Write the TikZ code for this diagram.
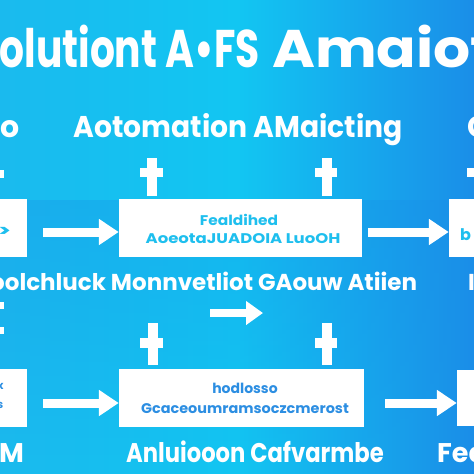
\documentclass[tikz,border=0pt]{standalone}
\usepackage{fontspec}
\setmainfont{Poppins}
\usetikzlibrary{arrows.meta,fadings}
\definecolor{bgcyan}{HTML}{12C6F2}
\definecolor{bgleft}{HTML}{1ABAEE}
\definecolor{bgblue}{HTML}{1A8EE8}
\definecolor{boxtxtA}{HTML}{1EBFEE}
\definecolor{boxtxtB}{HTML}{2C8EE2}
\tikzset{
  whitebox/.style={fill=white, draw=none},
  bigarrow/.style={draw=white, line width=9pt, -{Triangle[width=25pt,length=20pt]}},
  crossbar/.style={fill=white, draw=none},
  lbl/.style={text=white, font=\bfseries, inner sep=0pt, anchor=base},
}
\begin{document}
\begin{tikzpicture}[x=1pt,y=-1pt]
\useasboundingbox (0,0) rectangle (474,474);
\clip (0,0) rectangle (474,474);
% background
\shade[left color=bgleft, right color=bgblue, middle color=bgcyan] (0,0) rectangle (474,474);
\fill[bgblue, opacity=0.3, path fading=south] (0,200) rectangle (474,474);

% title
\node[lbl, font=\bfseries\fontsize{53}{60}\selectfont, anchor=base east] (title1) at (260,67) {\scalebox{0.74}[1]{olutiont A•FS}};
\node[lbl, font=\bfseries\fontsize{53}{60}\selectfont, anchor=base west] (title2) at (272,67) {\scalebox{1.1}[1]{Amaiot}};

% row 1 labels
\node[lbl, font=\bfseries\fontsize{30}{34}\selectfont] (r1lab) at (238,137) {\scalebox{0.94}[1]{Aotomation AMaicting}};
\node[lbl, font=\bfseries\fontsize{30}{34}\selectfont, anchor=base east] (r1left) at (20,137) {no};
\node[lbl, font=\bfseries\fontsize{30}{34}\selectfont, anchor=base west] (r1right) at (467,137) {C};

% crosses row 1
\fill[crossbar] (147,158) rectangle (157,196);
\fill[crossbar] (140,168) rectangle (163,177);
\fill[crossbar] (322,158) rectangle (332,196);
\fill[crossbar] (315,168) rectangle (337,177);
\fill[crossbar] (0,170) rectangle (4,178);
\fill[crossbar] (467,168) rectangle (474,177);

% row 1 boxes
\node[whitebox, minimum width=243pt, minimum height=58pt] (b1) at (240.5,228) {};
\node[whitebox, minimum width=28pt, minimum height=58pt] (b1l) at (13,228) {};
\node[whitebox, minimum width=30pt, minimum height=58pt] (b1r) at (464,228) {};
\node[text=boxtxtA, font=\bfseries\fontsize{14}{16}\selectfont, inner sep=0pt, anchor=base] (b1t1) at (239,225) {\scalebox{1.1}[1]{Fealdihed}};
\node[text=boxtxtA, font=\bfseries\fontsize{14}{16}\selectfont, inner sep=0pt, anchor=base] (b1t2) at (243,243) {\scalebox{1.18}[1]{AoeotaJUADOIA LuoOH}};
\node[text=boxtxtA, font=\bfseries\fontsize{16}{18}\selectfont, inner sep=0pt, anchor=base west] (b1lt) at (-2,236) {\scalebox{1.5}[1]{>}};
\node[text=boxtxtA, font=\bfseries\fontsize{16}{18}\selectfont, inner sep=0pt, anchor=base west] (b1rt) at (460,240) {b};

% row 1 arrows
\coordinate (a1s) at (43,232);
\coordinate (a2s) at (368,232);
\draw[bigarrow] (a1s) -- (a1s -| b1.west);
\draw[bigarrow] (a2s) -- (a2s -| b1r.west);

% row 2 labels
\node[lbl, font=\bfseries\fontsize{23}{26}\selectfont, anchor=base west] (r2lab) at (-10,290) {\scalebox{1.0}[1]{oolchluck Monnvetliot GAouw Atiien}};
\node[lbl, font=\bfseries\fontsize{23}{26}\selectfont, anchor=base west] (r2right) at (468,290) {I};

% small arrow
\coordinate (sa1) at (210,313);
\coordinate (sa2) at (263,313);
\draw[draw=white, line width=8pt, -{Triangle[width=23pt,length=17pt]}] (sa1) -- (sa2);

% crosses row 2
\fill[crossbar] (148,323) rectangle (158,365);
\fill[crossbar] (140,338) rectangle (163,348);
\fill[crossbar] (322,323) rectangle (332,365);
\fill[crossbar] (315,338) rectangle (337,348);
\fill[crossbar] (0,302) rectangle (4,309);
\fill[crossbar] (0,327) rectangle (4,334);

% row 2 boxes
\node[whitebox, minimum width=245pt, minimum height=58pt] (b2) at (241.5,398) {};
\node[whitebox, minimum width=28pt, minimum height=58pt] (b2l) at (13,398) {};
\node[whitebox, minimum width=18pt, minimum height=56pt] (b2r) at (466,398) {};
\node[text=boxtxtB, font=\bfseries\fontsize{14}{16}\selectfont, inner sep=0pt, anchor=base] (b2t1) at (245,393) {\scalebox{1.0}[1]{hodlosso}};
\node[text=boxtxtB, font=\bfseries\fontsize{14}{16}\selectfont, inner sep=0pt, anchor=base] (b2t2) at (245,413) {\scalebox{1.03}[1]{Gcaceoumramsoczcmerost}};
\node[text=boxtxtB, font=\bfseries\fontsize{11}{12}\selectfont, inner sep=0pt, anchor=base west] (b2lt1) at (-3,389) {x};
\node[text=boxtxtB, font=\bfseries\fontsize{11}{12}\selectfont, inner sep=0pt, anchor=base west] (b2lt2) at (-3,408) {s};

% row 2 arrows
\coordinate (a3s) at (43,403);
\coordinate (a4s) at (385,403);
\draw[bigarrow] (a3s) -- (a3s -| b2.west);
\draw[bigarrow] (a4s) -- (a4s -| b2r.west);

% bottom labels
\node[lbl, font=\bfseries\fontsize{27}{30}\selectfont] (blab) at (255,462) {\scalebox{0.84}[1]{Anluiooon Cafvarmbe}};
\node[lbl, font=\bfseries\fontsize{27}{30}\selectfont, anchor=base east] (bleft) at (24,462) {M};
\node[lbl, font=\bfseries\fontsize{27}{30}\selectfont, anchor=base west] (bright) at (437,462) {Fea};
\end{tikzpicture}
\end{document}
